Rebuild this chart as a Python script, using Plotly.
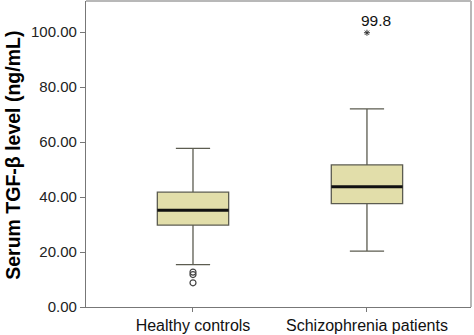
import plotly.graph_objects as go

# Group labels and summary statistics (ng/mL)
groups = ["Healthy controls", "Schizophrenia patients"]
q1 = [29.8, 37.6]
median = [35.2, 43.8]
q3 = [41.8, 51.7]
lower_whisker = [15.4, 20.3]
upper_whisker = [57.7, 72.1]

# Outlying observations
healthy_outliers = [12.7, 11.8, 8.8]
patient_extremes = [99.8]

y_ticks = [0, 20, 40, 60, 80, 100]

FONT = "Liberation Sans, Arial, Helvetica, sans-serif"
pos = list(range(len(groups)))

fig = go.Figure()

fig.add_trace(go.Box(
    x=pos,
    q1=q1, median=median, q3=q3,
    lowerfence=lower_whisker, upperfence=upper_whisker,
    width=0.41,
    whiskerwidth=0.48,
    fillcolor="#E2DEAA",
    line=dict(color="#5c5c50", width=1.3),
    boxpoints=False,
    hoverinfo="skip",
    showlegend=False,
))

# thick black median bars drawn over the boxes
for i, m in enumerate(median):
    fig.add_shape(type="line", xref="x", yref="y",
                  x0=pos[i] - 0.205, x1=pos[i] + 0.205, y0=m, y1=m,
                  line=dict(color="#111111", width=3))

fig.add_trace(go.Scatter(
    x=[pos[0]] * len(healthy_outliers), y=healthy_outliers,
    mode="markers",
    marker=dict(symbol="circle-open", size=6, color="#444444", line=dict(width=1.2)),
    showlegend=False, hoverinfo="skip",
))

fig.add_trace(go.Scatter(
    x=[pos[1]] * len(patient_extremes), y=patient_extremes,
    mode="markers",
    marker=dict(symbol="asterisk-open", size=5, color="#333333", line=dict(width=1, color="#333333")),
    showlegend=False, hoverinfo="skip",
))

for v in patient_extremes:
    fig.add_annotation(x=pos[1] + 0.052, y=v, yshift=12, text=f"{v:g}",
                       showarrow=False, xanchor="center", yanchor="middle",
                       font=dict(family=FONT, size=15.5, color="#111111"))

fig.add_annotation(xref="paper", yref="paper", x=-0.19, y=0.497,
                   text="Serum TGF-β level (ng/mL)", textangle=-90,
                   showarrow=False, xanchor="center", yanchor="middle",
                   font=dict(family=FONT, size=19.5, color="#000000", weight="bold"))

fig.update_layout(
    width=474, height=335,
    margin=dict(l=86, r=3, t=1, b=25),
    paper_bgcolor="white", plot_bgcolor="white",
    font=dict(family=FONT, size=15, color="#222222"),
    xaxis=dict(
        range=[-0.615, 1.598],
        tickmode="array", tickvals=pos, ticktext=groups,
        ticks="outside", ticklen=4, tickcolor="#777777",
        showline=True, linecolor="#777777", linewidth=1.2,
        showgrid=False, zeroline=False,
        tickfont=dict(size=16, color="#111111"),
        mirror=False,
    ),
    yaxis=dict(
        range=[0, 111.35],
        tickmode="array", tickvals=y_ticks,
        tickformat=".2f",
        ticks="outside", ticklen=5, tickcolor="#777777",
        showline=True, linecolor="#777777", linewidth=1.2,
        showgrid=False, zeroline=False,
        tickfont=dict(size=15, color="#222222"),
    ),
)

# light frame along the top and right edges
fig.add_shape(type="line", xref="paper", yref="paper", x0=0, x1=1, y0=1, y1=1,
              line=dict(color="#b8b8b8", width=2))
fig.add_shape(type="line", xref="paper", yref="paper", x0=1, x1=1, y0=0, y1=1,
              line=dict(color="#b8b8b8", width=2))

fig.write_html("out.html")
